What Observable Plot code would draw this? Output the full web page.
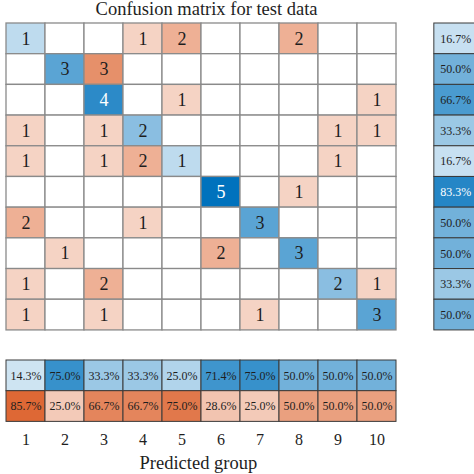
<!DOCTYPE html>
<html>
<head>
<meta charset="utf-8">
<script src="https://cdn.jsdelivr.net/npm/d3@7"></script>
<script src="https://cdn.jsdelivr.net/npm/@observablehq/plot@0.6"></script>
<style>
  html, body { margin: 0; padding: 0; background: #fff; overflow: hidden; }
</style>
</head>
<body>
<div id="chart"></div>
<script>
// ---- data ----
const title = "Confusion matrix for test data";
const xLabel = "Predicted group";
const classes = [1, 2, 3, 4, 5, 6, 7, 8, 9, 10];
// rows = true group, columns = predicted group
const counts = [
  [1, 0, 0, 1, 2, 0, 0, 2, 0, 0],
  [0, 3, 3, 0, 0, 0, 0, 0, 0, 0],
  [0, 0, 4, 0, 1, 0, 0, 0, 0, 1],
  [1, 0, 1, 2, 0, 0, 0, 0, 1, 1],
  [1, 0, 1, 2, 1, 0, 0, 0, 1, 0],
  [0, 0, 0, 0, 0, 5, 0, 1, 0, 0],
  [2, 0, 0, 1, 0, 0, 3, 0, 0, 0],
  [0, 1, 0, 0, 0, 2, 0, 3, 0, 0],
  [1, 0, 2, 0, 0, 0, 0, 0, 2, 1],
  [1, 0, 1, 0, 0, 0, 1, 0, 0, 3]
];

// ---- colours ----
const blueI = d3.interpolateRgb("#ffffff", "#0072bd");
const orangeI = d3.interpolateRgb("#ffffff", "#d95319");
const shade = t => Math.pow(t, 0.85);
const maxCount = d3.max(counts.flat());
const dark = "#1e1e1e";

// ---- derived tables ----
const cells = [];
counts.forEach((row, r) => row.forEach((v, c) => {
  const diag = r === c;
  const t = shade(v / maxCount);
  cells.push({
    r: r + 1, c: c + 1, v,
    fill: v === 0 ? "#ffffff" : (diag ? blueI(t) : orangeI(t)),
    ink: diag && t >= 0.8 ? "#ffffff" : dark
  });
}));

const fmt = p => (p * 100).toFixed(1) + "%";
const rowSummary = counts.map((row, r) => {
  const p = row[r] / d3.sum(row);
  const t = shade(p);
  return { r: r + 1, label: fmt(p), fill: blueI(t), ink: t >= 0.8 ? "#ffffff" : dark };
});
const colSummary = [];
classes.forEach((k, c) => {
  const tot = d3.sum(counts, row => row[c]);
  const p = counts[c][c] / tot;
  const t = shade(p), u = shade(1 - p);
  colSummary.push({ c: c + 1, row: 12, label: fmt(p), fill: blueI(t), ink: t >= 0.8 ? "#ffffff" : dark });
  colSummary.push({ c: c + 1, row: 13, label: fmt(1 - p), fill: orangeI(u), ink: dark });
});

const serif = "'Liberation Serif', 'Times New Roman', Times, serif";

const chart = Plot.plot({
  width: 474,
  height: 474,
  marginLeft: 6,
  marginRight: 78,
  marginTop: 23,
  marginBottom: 52,
  x: { domain: [0, 10], axis: null },
  y: { domain: [0, 13], reverse: true, axis: null },
  marks: [
    // main matrix
    Plot.rect(cells, {
      x1: d => d.c - 1, x2: d => d.c, y1: d => d.r - 1, y2: d => d.r,
      fill: d => d.fill, stroke: "#8a8a8a", strokeWidth: 1.3
    }),
    Plot.text(cells.filter(d => d.v > 0), {
      x: d => d.c - 0.5, y: d => d.r - 0.5, text: d => String(d.v),
      fill: d => d.ink, fontSize: 18, fontFamily: serif
    }),
    // right summary column
    Plot.rect(rowSummary, {
      x1: 10.97, x2: 12.2, y1: d => d.r - 1, y2: d => d.r,
      fill: d => d.fill, stroke: "#3a3a3a", strokeWidth: 1
    }),
    Plot.text(rowSummary, {
      x: 11.52, y: d => d.r - 0.5, text: "label",
      fill: d => d.ink, fontSize: 12, fontFamily: serif
    }),
    // bottom summary rows
    Plot.rect(colSummary, {
      x1: d => d.c - 1, x2: d => d.c, y1: d => d.row - 2 + 0.98, y2: d => d.row - 1 + 0.98,
      fill: d => d.fill, stroke: "#3a3a3a", strokeWidth: 1
    }),
    Plot.text(colSummary, {
      x: d => d.c - 0.5, y: d => d.row - 1.5 + 0.98, text: "label",
      fill: d => d.ink, fontSize: 12, fontFamily: serif
    }),
    // tick labels
    Plot.text(classes, {
      x: d => d - 0.5, y: 13.58, text: d => String(d),
      fill: dark, fontSize: 16, fontFamily: serif
    }),
    // axis title
    Plot.text([xLabel], {
      x: 4.92, y: 14.33, text: d => d,
      fill: dark, fontSize: 18.5, fontFamily: serif
    }),
    // chart title
    Plot.text([title], {
      x: 5.13, y: -0.46, text: d => d,
      fill: dark, fontSize: 18.5, fontFamily: serif
    })
  ]
});

document.getElementById("chart").appendChild(chart);
</script>
</body>
</html>
